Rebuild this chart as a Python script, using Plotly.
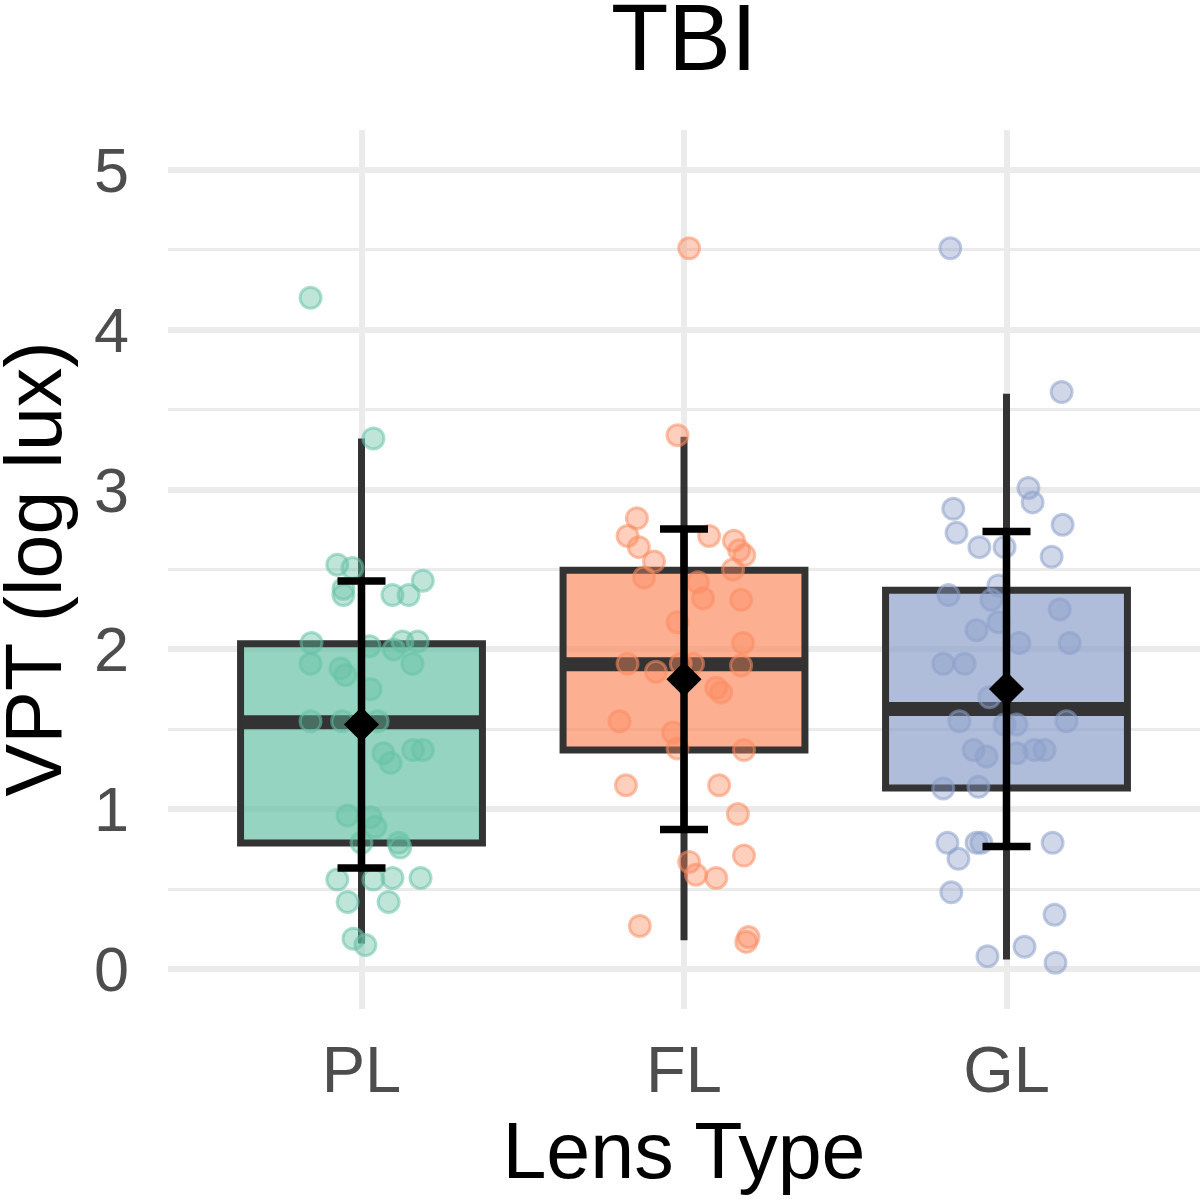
import plotly.graph_objects as go

# ---------------- data ----------------
categories = ["PL", "FL", "GL"]
colors = ["#66C2A5", "#FC8D62", "#8DA0CB"]

PL_y = [4.20, 3.32, 2.53, 2.51, 2.38, 2.34, 2.34, 2.34, 2.43, 2.04, 2.02, 2.00, 2.05, 2.05,
        1.91, 1.91, 1.88, 1.84, 1.75, 1.55, 1.55, 1.55, 1.35, 1.29, 1.37, 1.37, 0.96, 0.95,
        0.89, 0.79, 0.79, 0.76, 0.56, 0.56, 0.57, 0.57, 0.42, 0.42, 0.19, 0.15]
PL_jitter = [-0.158, 0.037, -0.075, -0.028, -0.056, -0.056, 0.096, 0.146, 0.19, -0.155, 0.025,
             0.10, 0.127, 0.174, -0.158, 0.158, -0.065, -0.05, 0.028, -0.158, -0.06, 0.05,
             0.068, 0.09, 0.16, 0.19, -0.043, 0.028, 0.043, 0.0, 0.115, 0.12, -0.075, 0.037,
             0.096, 0.183, -0.043, 0.084, -0.025, 0.012]

FL_y = [4.51, 3.34, 2.82, 2.71, 2.64, 2.55, 2.45, 2.71, 2.68, 2.62, 2.59, 2.50, 2.42, 2.32,
        2.31, 2.17, 2.04, 1.90, 1.91, 1.86, 1.91, 1.91, 1.76, 1.73, 1.55, 1.48, 1.38, 1.37,
        1.15, 1.15, 0.97, 0.71, 0.67, 0.59, 0.57, 0.27, 0.20, 0.17]
FL_jitter = [0.016, -0.02, -0.146, -0.175, -0.14, -0.093, -0.124, 0.078, 0.155, 0.171, 0.187,
             0.152, 0.043, 0.059, 0.177, -0.02, 0.183, 0.177, -0.175, -0.087, -0.01, 0.028,
             0.10, 0.115, -0.2, -0.034, -0.02, 0.186, -0.18, 0.109, 0.167, 0.186, 0.016,
             0.037, 0.10, -0.137, 0.20, 0.193]

GL_y = [4.51, 3.61, 3.01, 2.92, 2.88, 2.73, 2.78, 2.64, 2.64, 2.58, 2.40, 2.34, 2.31, 2.25,
        2.17, 2.12, 2.04, 2.04, 1.91, 1.91, 1.70, 1.55, 1.53, 1.53, 1.55, 1.37, 1.33, 1.35,
        1.37, 1.37, 1.13, 1.14, 0.79, 0.79, 0.79, 0.79, 0.69, 0.48, 0.34, 0.08, 0.14, 0.04]
GL_jitter = [-0.174, 0.171, 0.068, 0.081, -0.165, -0.155, 0.174, -0.084, -0.006, 0.14, -0.025,
             -0.18, -0.047, 0.165, -0.025, -0.093, 0.04, 0.196, -0.196, -0.13, -0.053,
             -0.146, -0.006, 0.031, 0.186, -0.102, -0.062, 0.031, 0.087, 0.118, -0.196,
             -0.087, -0.183, -0.093, -0.078, 0.143, -0.149, -0.171, 0.149, -0.059, 0.056,
             0.152]

box_q1 = [0.788, 1.370, 1.133]
box_median = [1.544, 1.907, 1.627]
box_q3 = [2.036, 2.495, 2.370]
box_lower = [0.16, 0.18, 0.06]
box_upper = [3.32, 3.33, 3.60]
group_mean = [1.530, 1.813, 1.752]
group_sd = [0.898, 0.940, 0.985]

points_y = [PL_y, FL_y, GL_y]
points_jitter = [PL_jitter, FL_jitter, GL_jitter]
yticks = [0, 1, 2, 3, 4, 5]

# ---------------- helpers ----------------
def rgba(hexc, a):
    h = hexc.lstrip("#")
    r, g, b = int(h[0:2], 16), int(h[2:4], 16), int(h[4:6], 16)
    return f"rgba({r},{g},{b},{a})"

FONT = "Liberation Sans, Arial, Helvetica, sans-serif"
BOXW = 0.75
pos = [i + 1 for i in range(len(categories))]

fig = go.Figure()

# boxes (whiskers to fences, no outlier markers)
for i, c in enumerate(categories):
    fig.add_trace(go.Box(
        x=[pos[i]], q1=[box_q1[i]], median=[box_median[i]], q3=[box_q3[i]],
        lowerfence=[box_lower[i]], upperfence=[box_upper[i]],
        width=BOXW, whiskerwidth=0, boxpoints=False,
        fillcolor=rgba(colors[i], 0.7), line=dict(color="#333333", width=7),
        showlegend=False, hoverinfo="skip",
    ))

# thick median lines
for i, c in enumerate(categories):
    fig.add_trace(go.Scatter(
        x=[pos[i] - BOXW / 2, pos[i] + BOXW / 2], y=[box_median[i], box_median[i]],
        mode="lines", line=dict(color="#333333", width=14),
        showlegend=False, hoverinfo="skip",
    ))

# jittered points
for i, c in enumerate(categories):
    fig.add_trace(go.Scatter(
        x=[pos[i] + d for d in points_jitter[i]], y=points_y[i],
        mode="markers",
        marker=dict(size=21, color=rgba(colors[i], 0.42),
                    line=dict(color=rgba(colors[i], 0.55), width=3)),
        showlegend=False, hoverinfo="skip",
    ))

# mean +/- SD
fig.add_trace(go.Scatter(
    x=pos, y=group_mean, mode="markers",
    marker=dict(symbol="diamond", size=27, color="black"),
    error_y=dict(type="data", array=group_sd, visible=True, color="black",
                 thickness=7.5, width=24),
    showlegend=False, hoverinfo="skip",
))

fig.update_layout(
    width=1200, height=1199,
    margin=dict(l=168, r=0, t=130, b=190, pad=0),
    paper_bgcolor="white", plot_bgcolor="white",
    font=dict(family=FONT, color="#4D4D4D"),
    title=dict(text="TBI", x=0.5, xref="paper", xanchor="center",
               y=1 - 37 / 1199, yref="container", yanchor="middle",
               font=dict(size=94, color="black", family=FONT)),
    showlegend=False,
    annotations=[dict(
        text="VPT (log lux)", textangle=-90, showarrow=False,
        xref="paper", yref="paper", x=0, y=0.5, xanchor="center", yanchor="middle",
        xshift=-135, font=dict(size=79, color="black", family=FONT),
    )],
)

fig.update_xaxes(
    range=[0.4, 3.6], tickvals=pos, ticktext=categories,
    showgrid=True, gridcolor="#EBEBEB", gridwidth=6,
    zeroline=False, showline=False, ticks="",
    tickfont=dict(size=65, color="#4D4D4D", family=FONT),
    ticklabelstandoff=17,
    title=dict(text="Lens Type", font=dict(size=79, color="black", family=FONT), standoff=15),
)
fig.update_yaxes(
    range=[-0.25, 5.25], tickvals=yticks,
    showgrid=True, gridcolor="#EBEBEB", gridwidth=6,
    minor=dict(dtick=0.5, tick0=0, showgrid=True, gridcolor="#EBEBEB", gridwidth=3),
    zeroline=False, showline=False, ticks="",
    tickfont=dict(size=63, color="#4D4D4D", family=FONT),
    ticklabelstandoff=38,
)

fig.write_html("out.html")
